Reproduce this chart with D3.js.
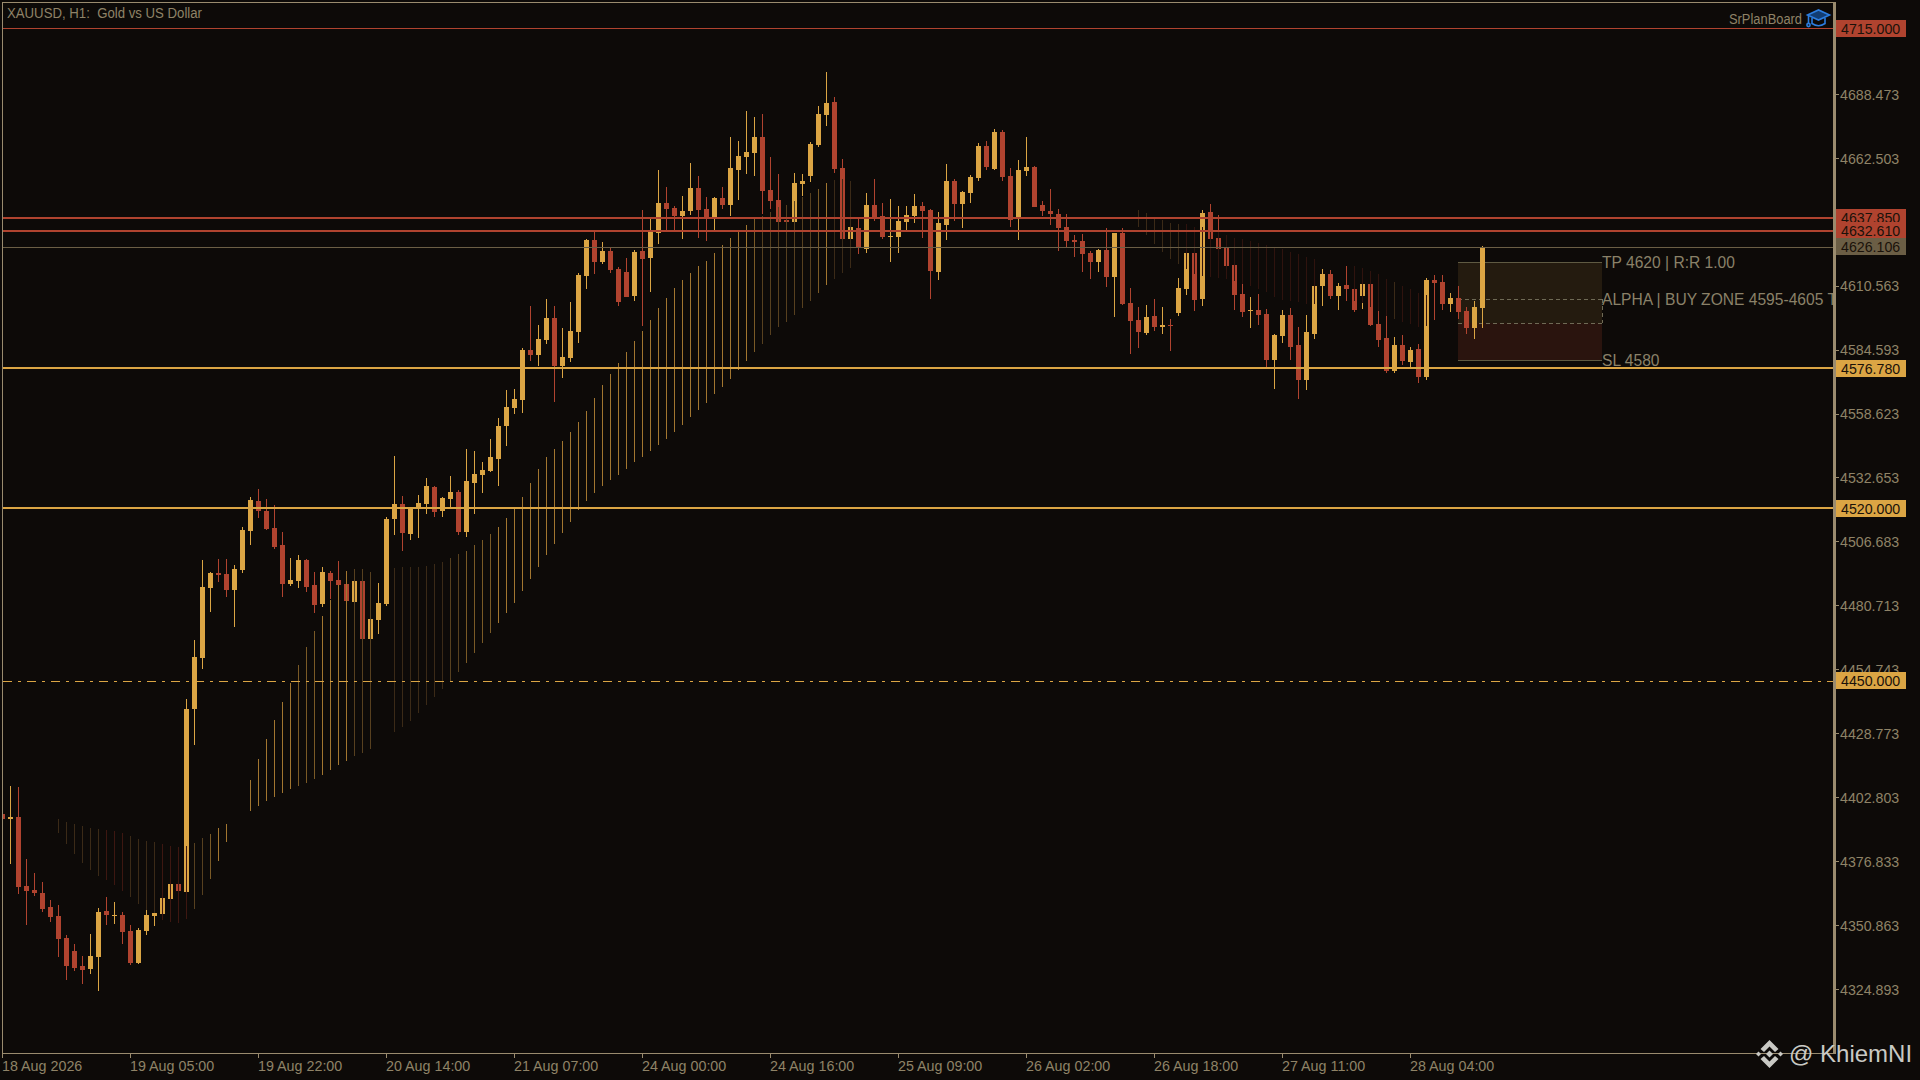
<!DOCTYPE html>
<html><head><meta charset="utf-8">
<script src="https://cdn.jsdelivr.net/npm/d3@7/dist/d3.min.js"></script>
<style>html,body{margin:0;padding:0;background:#0d0a08;overflow:hidden}svg{display:block}text{font-family:"Liberation Sans",Arial,sans-serif;white-space:pre}</style>
</head><body><div id="chart"></div>
<script>
const opens=[4396.0,4394.0,4394.8,4366.7,4365.1,4363.9,4358.2,4354.6,4345.6,4340.3,
4334.3,4333.0,4337.9,4356.6,4354.6,4355.0,4348.5,4335.5,4348.5,4354.6,
4355.4,4361.5,4367.6,4364.3,4438.6,4459.3,4487.8,4493.9,4493.5,4487.0,
4495.1,4510.9,4523.1,4519.0,4512.1,4505.2,4489.4,4490.6,4499.1,4489.0,
4481.3,4493.9,4491.0,4489.4,4482.1,4490.6,4467.1,4474.8,4481.3,4515.8,
4521.9,4509.7,4520.3,4521.9,4528.8,4519.0,4523.9,4526.8,4510.5,4530.4,
4533.7,4535.3,4540.2,4553.6,4560.9,4564.1,4584.4,4582.4,4588.5,4597.4,
4577.9,4581.2,4591.7,4614.5,4629.1,4620.2,4624.6,4617.3,4616.1,4606.3,
4624.6,4621.8,4632.0,4644.1,4642.1,4638.9,4640.9,4650.2,4641.7,4638.0,
4646.2,4643.3,4657.5,4662.8,4664.4,4670.9,4649.4,4645.3,4637.2,4636.4,
4651.9,4655.1,4667.7,4679.9,4685.1,4658.3,4629.5,4634.0,4625.5,4643.3,
4638.9,4630.3,4630.3,4636.4,4638.9,4642.9,4641.3,4616.1,4635.2,4653.1,
4643.7,4648.2,4654.3,4667.3,4657.9,4673.0,4655.1,4638.0,4657.1,4658.7,
4643.3,4640.9,4639.7,4634.4,4629.1,4628.7,4623.8,4620.2,4625.0,4614.1,
4632.0,4603.5,4596.6,4591.3,4598.2,4593.8,4594.6,4599.4,4609.2,4623.8,
4605.1,4640.5,4629.9,4625.9,4618.9,4607.2,4600.3,4600.7,4599.0,4580.4,
4590.1,4598.6,4586.5,4572.2,4590.9,4610.4,4615.3,4606.3,4610.8,4609.2,
4606.3,4611.2,4595.0,4589.3,4575.9,4586.5,4579.5,4584.8,4573.4,4612.9,
4612.0,4603.1,4605.5,4600.3,4593.4,4601.5];
const highs=[4396.0,4407.4,4407.0,4377.7,4372.0,4368.4,4361.1,4359.0,4346.8,4343.2,
4338.3,4347.3,4357.8,4362.3,4360.2,4356.2,4350.9,4349.7,4357.4,4355.8,
4361.9,4367.6,4367.6,4442.7,4466.6,4499.1,4494.3,4499.6,4499.6,4497.1,
4512.5,4524.7,4528.0,4523.9,4521.5,4510.5,4500.0,4501.2,4499.6,4494.3,
4496.3,4494.7,4498.7,4494.7,4492.6,4490.6,4475.2,4489.8,4516.6,4541.4,
4525.1,4520.7,4525.5,4532.4,4529.2,4524.7,4533.3,4527.6,4544.2,4543.4,
4538.9,4548.3,4556.8,4568.2,4568.6,4585.2,4602.3,4594.6,4605.1,4602.3,
4593.4,4603.9,4615.7,4629.5,4632.8,4628.3,4625.9,4618.1,4621.8,4625.0,
4641.3,4637.6,4657.5,4650.6,4642.9,4647.0,4660.4,4655.1,4646.6,4646.6,
4650.6,4670.9,4669.3,4681.5,4679.1,4680.3,4662.8,4655.9,4637.2,4656.3,
4655.9,4668.9,4683.5,4697.3,4687.2,4662.0,4634.4,4637.6,4648.2,4653.9,
4644.1,4645.8,4642.9,4642.9,4647.8,4644.5,4641.7,4640.5,4660.0,4653.9,
4649.0,4655.5,4668.5,4669.3,4674.2,4673.8,4658.3,4661.6,4670.9,4659.1,
4644.9,4649.8,4641.7,4639.7,4631.1,4631.5,4624.6,4625.5,4634.0,4632.0,
4634.0,4609.6,4601.9,4602.7,4605.1,4601.9,4597.0,4613.7,4623.8,4623.8,
4641.3,4643.7,4639.3,4625.9,4618.9,4611.6,4605.9,4607.2,4601.1,4590.9,
4600.7,4601.5,4593.8,4598.6,4610.4,4617.3,4616.9,4611.6,4618.5,4609.2,
4611.2,4611.2,4600.3,4598.2,4589.7,4590.5,4585.6,4586.9,4613.7,4614.9,
4614.9,4607.6,4610.4,4601.9,4604.3,4626.7];
const lows=[4394.0,4375.7,4363.5,4350.9,4362.7,4356.2,4352.1,4337.9,4328.6,4332.2,
4326.9,4331.0,4324.1,4350.9,4351.3,4343.2,4334.7,4335.1,4346.8,4350.5,
4352.9,4361.5,4364.7,4364.3,4424.0,4454.9,4478.0,4490.2,4484.1,4471.9,
4493.9,4505.2,4516.2,4511.3,4503.6,4484.1,4488.6,4487.8,4486.1,4477.6,
4480.0,4483.3,4487.0,4482.5,4481.7,4467.1,4467.1,4469.1,4480.5,4509.3,
4502.8,4507.3,4508.1,4517.8,4516.6,4516.6,4520.3,4509.3,4508.5,4517.8,
4526.4,4534.9,4529.2,4545.4,4558.4,4558.8,4580.0,4577.9,4586.9,4563.3,
4573.0,4579.5,4587.3,4609.2,4615.3,4619.4,4615.7,4602.3,4605.9,4604.3,
4594.2,4608.0,4627.5,4633.2,4632.8,4629.5,4639.3,4629.9,4628.7,4633.2,
4641.7,4638.9,4645.3,4655.9,4655.1,4639.7,4641.7,4636.4,4636.4,4636.4,
4647.0,4652.7,4666.9,4675.4,4656.3,4629.5,4629.5,4623.4,4623.8,4636.8,
4629.5,4620.2,4623.8,4633.2,4636.0,4629.9,4605.1,4612.9,4629.1,4636.8,
4634.0,4644.1,4653.1,4657.5,4657.5,4653.1,4634.4,4629.1,4655.1,4642.5,
4638.9,4635.2,4624.6,4626.3,4622.2,4616.1,4613.3,4616.1,4610.0,4597.8,
4602.7,4582.8,4585.2,4590.5,4592.1,4590.9,4584.0,4598.2,4606.8,4600.3,
4602.3,4629.5,4625.5,4618.5,4600.7,4597.8,4593.4,4594.6,4577.5,4568.6,
4587.3,4580.4,4564.5,4568.2,4588.9,4602.3,4605.1,4600.7,4604.3,4599.9,
4601.1,4594.2,4585.6,4575.1,4575.1,4578.3,4577.5,4571.0,4572.2,4596.6,
4600.7,4599.9,4597.0,4590.9,4588.9,4593.4];
const closes=[4394.0,4394.8,4366.3,4364.7,4363.9,4357.4,4354.2,4345.2,4334.3,4333.4,
4332.6,4338.3,4356.2,4355.0,4355.0,4348.1,4335.5,4348.9,4355.0,4355.8,
4361.9,4367.6,4364.7,4438.6,4459.7,4488.2,4493.9,4493.0,4487.0,4495.5,
4511.3,4523.5,4519.0,4511.7,4504.4,4489.4,4491.0,4499.1,4488.2,4480.9,
4494.3,4490.6,4489.0,4482.5,4490.6,4467.1,4475.2,4481.7,4515.8,4521.9,
4510.1,4520.3,4522.3,4529.2,4518.6,4524.3,4526.8,4510.5,4531.2,4534.1,
4535.7,4541.0,4553.6,4561.3,4564.5,4584.4,4582.4,4588.9,4597.4,4577.9,
4581.6,4592.1,4614.9,4629.1,4620.2,4624.6,4616.9,4603.9,4605.9,4624.2,
4621.4,4632.4,4644.1,4641.7,4638.9,4640.9,4650.2,4641.3,4638.0,4646.2,
4643.3,4658.3,4663.2,4664.8,4670.9,4649.0,4644.9,4636.4,4636.4,4652.2,
4653.1,4668.1,4680.3,4684.7,4657.9,4629.5,4634.4,4625.9,4643.3,4637.6,
4630.3,4630.7,4636.8,4639.3,4642.9,4640.9,4616.5,4636.0,4653.1,4643.7,
4648.6,4654.7,4667.3,4658.7,4673.0,4654.7,4637.2,4657.5,4658.7,4642.5,
4640.9,4639.7,4634.0,4628.7,4628.3,4623.4,4620.2,4625.0,4614.1,4632.0,
4603.1,4596.2,4591.7,4597.8,4593.8,4594.6,4594.2,4609.6,4623.8,4604.7,
4640.1,4629.5,4625.5,4618.5,4606.8,4599.9,4600.7,4598.6,4580.4,4590.5,
4598.6,4585.6,4572.2,4591.7,4610.4,4615.3,4606.3,4610.4,4609.2,4600.7,
4611.2,4594.6,4588.5,4575.9,4586.5,4580.0,4584.4,4573.4,4612.9,4611.6,
4603.1,4605.5,4599.9,4593.4,4601.9,4625.9];

// oscillating ribbon drawn behind price, from bar 7 onward; null = no bar
const ribbonFirstBar=7;
const ribbonHigh=[4394.0,4392.7,4391.9,4391.1,4390.3,4389.9,4389.5,4389.1,4388.3,4387.0,
4385.8,4385.0,4384.6,4383.8,4383.0,4382.6,4383.0,4384.2,4386.2,4387.9,
4390.3,4391.9,null,null,4409.8,4418.3,4426.4,4434.2,4441.5,4449.2,
4456.5,4463.8,4470.3,4476.4,4482.9,4489.0,4494.7,4495.5,4495.5,4494.3,
null,null,4495.9,4496.3,4496.3,4496.3,4496.7,4497.5,4498.3,4500.0,
4501.6,4502.8,4505.2,4507.3,4509.7,4512.5,4516.2,4520.3,4524.7,4530.4,
4536.1,4541.0,4544.2,4547.5,4551.1,4555.2,4559.6,4564.9,4570.2,4574.7,
4579.1,4583.6,4588.1,4592.1,4596.6,4601.5,4605.5,4609.6,4612.9,4615.7,
4618.5,4620.6,4623.8,4627.1,4629.9,4632.4,4635.2,4637.6,4638.9,4640.5,
4642.5,4643.3,4644.9,4646.6,4648.2,4649.8,4652.2,4653.5,4653.9,4653.1,
null,null,null,null,null,null,null,null,null,null,
null,null,null,null,null,null,null,null,null,null,
null,null,null,null,null,null,null,null,null,null,
null,null,null,null,null,4641.3,4640.1,4637.6,4637.2,4636.0,
4635.6,4635.6,4634.4,4634.4,4633.2,4633.2,4631.1,4629.9,4629.5,4628.7,
4627.9,4627.1,4625.9,4625.5,4624.2,4623.4,4622.2,4621.4,null,null,
null,null,4618.5,4617.7,4616.5,4615.3,4613.3,4612.0,4610.4,4609.2,
4607.6,4606.8];
const ribbonLow=[4388.3,4383.8,4379.7,4376.1,4373.2,4370.8,4369.2,4367.2,4364.7,4362.3,
4359.4,4357.0,4355.8,4352.9,4352.1,4351.7,4353.3,4357.4,4363.1,4369.6,
4376.9,4384.6,null,null,4397.2,4399.2,4401.3,4402.9,4404.5,4406.1,
4407.4,4408.6,4410.2,4411.8,4413.9,4415.9,4417.5,4419.5,4420.8,4422.4,
null,null,4429.3,4431.3,4433.8,4437.0,4440.2,4443.5,4446.8,4450.0,
4453.7,4457.3,4461.4,4465.4,4469.5,4473.6,4477.6,4481.7,4486.6,4491.4,
4496.3,4501.2,4505.6,4510.1,4514.6,4519.4,4523.1,4526.4,4529.2,4531.6,
4533.7,4536.1,4538.9,4541.0,4543.4,4545.9,4548.3,4551.1,4553.9,4557.2,
4560.1,4562.9,4566.6,4569.4,4572.6,4576.3,4580.0,4583.6,4586.9,4590.5,
4593.8,4595.8,4598.6,4601.5,4604.3,4607.6,4610.8,4613.3,4615.7,4617.7,
null,null,null,null,null,null,null,null,null,null,
null,null,null,null,null,null,null,null,null,null,
null,null,null,null,null,null,null,null,null,null,
null,null,null,null,null,4634.4,4631.1,4627.5,4624.2,4621.4,
4619.4,4617.3,4615.3,4614.5,4614.1,4613.7,4613.3,4612.5,4611.2,4610.4,
4609.2,4608.0,4605.9,4604.7,4604.3,4603.9,4603.1,4603.1,null,null,
null,null,4604.3,4603.5,4601.9,4600.3,4598.2,4597.0,4595.8,4595.0,
4593.8,4594.2];
const ribbonStrength=[1,1,1,1,1,1,-2,-2,-2,1,
1,1,1,-2,-2,-2,-2,2,2,3,
4,4,0,0,4,4,4,4,4,4,
3,3,3,4,4,4,4,2,2,2,
0,0,1,1,1,1,1,1,1,2,
2,3,3,3,3,4,4,4,4,4,
4,4,4,4,4,4,4,4,4,4,
4,4,4,4,4,4,4,4,4,4,
4,4,4,4,4,4,4,3,2,2,
2,2,2,2,2,3,4,1,1,1,
0,0,0,0,0,0,0,0,0,0,
0,0,0,0,0,0,0,0,0,0,
0,0,0,0,0,0,0,0,0,0,
0,0,0,0,0,1,1,1,1,1,
1,-1,-1,-1,-1,-1,-1,-1,-1,-1,
-1,-1,-1,-1,-1,-1,-1,-1,0,0,
0,0,-1,-1,-1,-1,-1,1,-1,-1,
-1,-1];

const priceTicks=[4688.473,4662.503,4636.533,4610.563,4584.593,4558.623,4532.653,4506.683,4480.713,4454.743,4428.773,4402.803,4376.833,4350.863,4324.893];
const dateBars=[0,16,32,48,64,80,96,112,128,144,160,176];
const dateLabels=["18 Aug 2026","19 Aug 05:00","19 Aug 22:00","20 Aug 14:00","21 Aug 07:00","24 Aug 00:00","24 Aug 16:00","25 Aug 09:00","26 Aug 02:00","26 Aug 18:00","27 Aug 11:00","28 Aug 04:00"];
const levelPrices=[4715,4637.85,4632.61,4626.106,4576.78,4520,4450];
const levelKinds=["red1","red","red","olive","gold","gold","dash"];
const tradeTP=4620, tradeZoneHigh=4605, tradeZoneLow=4595, tradeSL=4580;
const tradeStartBar=182, tradeEndBar=200;
const tradeTexts=["TP 4620 | R:R 1.00","ALPHA | BUY ZONE 4595-4605 TP 4620","SL 4580"];

const W=1920,H=1080;
const BG="#0d0a08",GOLD="#dba544",RED="#b0432f",OLIVE="#6b5e45",AXIS="#9a8b6e",TXT="#8f8367",DARK="#1a120a";
const plotL=2,plotR=1833,plotT=2,plotB=1053,axisX=1836;

const svg=d3.select("#chart").append("svg").attr("width",W).attr("height",H).attr("viewBox",`0 0 ${W} ${H}`);
svg.append("rect").attr("width",W).attr("height",H).attr("fill",BG);

const x=d3.scaleLinear().domain([0,185]).range([2.5,1482.5]);
const y=d3.scaleLinear().domain([4715,4450]).range([28.5,681]);
const ry=p=>Math.round(y(p));
const fy=p=>Math.floor(y(p));
const ribbonColor=d3.scaleOrdinal().domain([-2,-1,1,2,3,4]).range(["#3d1711","#2f130e","#3b2a17","#57401f","#7a5a26","#a27630"]);

const defs=svg.append("defs");
defs.append("clipPath").attr("id","plot").append("rect").attr("x",plotL).attr("y",plotT).attr("width",plotR-plotL).attr("height",plotB-plotT);
const plot=svg.append("g").attr("clip-path","url(#plot)").attr("shape-rendering","crispEdges");

// trade box
const bx0=x(tradeStartBar)-0.5,bx1=x(tradeEndBar)-0.5;
const box=plot.append("g");
box.append("rect").attr("x",bx0).attr("width",bx1-bx0).attr("y",fy(tradeTP)).attr("height",fy(tradeZoneLow)-fy(tradeTP)).attr("fill","#241b0f");
box.append("rect").attr("x",bx0).attr("width",bx1-bx0).attr("y",fy(tradeZoneLow)).attr("height",fy(tradeSL)-fy(tradeZoneLow)).attr("fill","#2a140e");
[[tradeTP,null],[tradeSL,null],[tradeZoneHigh,"4 3"],[tradeZoneLow,"4 3"]].forEach(([p,d])=>{
  box.append("line").attr("x1",bx0).attr("x2",bx1).attr("y1",fy(p)+0.5).attr("y2",fy(p)+0.5)
    .attr("stroke",d?"#6f6a55":"#5f5a42").attr("stroke-dasharray",d);
});
box.append("line").attr("x1",bx1+0.5).attr("x2",bx1+0.5).attr("y1",fy(tradeZoneHigh)).attr("y2",fy(tradeZoneLow))
  .attr("stroke","#6f6a55").attr("stroke-dasharray","4 3");

// candles
const bars=d3.range(opens.length);
const candles=plot.append("g");
candles.selectAll("rect.w").data(bars).join("rect").attr("class","w")
  .attr("x",i=>x(i)-0.5).attr("width",1)
  .attr("y",i=>ry(highs[i])).attr("height",i=>Math.max(1,ry(lows[i])-ry(highs[i])))
  .attr("fill",i=>closes[i]>=opens[i]?GOLD:RED);
candles.selectAll("rect.b").data(bars).join("rect").attr("class","b")
  .attr("x",i=>x(i)-2.5).attr("width",5)
  .attr("y",i=>ry(Math.max(opens[i],closes[i])))
  .attr("height",i=>Math.max(1,ry(Math.min(opens[i],closes[i]))-ry(Math.max(opens[i],closes[i]))))
  .attr("fill",i=>closes[i]>=opens[i]?GOLD:RED);

// ribbon
plot.append("g").selectAll("rect").data(ribbonHigh.map((h,k)=>k).filter(k=>ribbonHigh[k]!==null)).join("rect")
  .attr("x",k=>x(k+ribbonFirstBar)-0.5).attr("width",1)
  .attr("y",k=>ry(ribbonHigh[k])).attr("height",k=>ry(ribbonLow[k])-ry(ribbonHigh[k]))
  .attr("fill",k=>ribbonColor(ribbonStrength[k]));

// horizontal levels
const lv=plot.append("g");
levelPrices.forEach((p,k)=>{
  const kind=levelKinds[k];
  const line=lv.append("rect").attr("x",plotL).attr("width",plotR-plotL);
  if(kind==="red1"){line.attr("y",fy(p)).attr("height",1).attr("fill",RED);}
  else if(kind==="olive"){line.attr("y",fy(p)).attr("height",1).attr("fill",OLIVE);}
  else if(kind==="dash"){line.remove();lv.append("line").attr("x1",plotL+1).attr("x2",plotR).attr("y1",fy(p)+0.5).attr("y2",fy(p)+0.5)
      .attr("stroke",GOLD).attr("stroke-dasharray","9 6 3 6");}
  else{line.attr("y",fy(p)-1).attr("height",2).attr("fill",kind==="red"?RED:GOLD);}
});

// trade texts
const textBaselines=[tradeTP,tradeZoneHigh,tradeSL];
plot.append("g").selectAll("text").data(tradeTexts).join("text")
  .attr("x",bx1).attr("y",(d,k)=>fy(textBaselines[k])+5.5)
  .attr("font-size",15.6).attr("fill","#8a8168").text(d=>d);

// frame
const frame=svg.append("g").attr("shape-rendering","crispEdges").attr("fill",AXIS);
frame.append("rect").attr("x",plotL).attr("y",plotT).attr("width",axisX-plotL).attr("height",1);
frame.append("rect").attr("x",plotL).attr("y",plotT).attr("width",1).attr("height",plotB-plotT);
frame.append("rect").attr("x",plotL).attr("y",plotB).attr("width",axisX-plotL).attr("height",1);
frame.append("rect").attr("x",plotR).attr("y",plotT).attr("width",axisX-plotR).attr("height",plotB-plotT+1);

// axes
const priceAxis=d3.axisRight(y).tickValues(priceTicks).tickSize(3).tickPadding(1).tickFormat(d3.format(".3f"));
const gy=svg.append("g").attr("transform",`translate(${axisX},0)`).call(priceAxis);
gy.select(".domain").remove();
gy.selectAll("line").attr("stroke",AXIS).attr("shape-rendering","crispEdges");
gy.selectAll("text").attr("fill",TXT).attr("font-size",14.2).attr("dy","0.37em").attr("font-family",'"Liberation Sans",Arial,sans-serif');

const xDate=d3.scaleLinear().domain([0,185]).range([2,1482]);
const dateAxis=d3.axisBottom(xDate).tickValues(dateBars).tickSize(4).tickPadding(3).tickFormat(d=>dateLabels[dateBars.indexOf(d)]);
const gx=svg.append("g").attr("transform",`translate(0,${plotB+1})`).call(dateAxis);
gx.select(".domain").remove();
gx.selectAll("line").attr("stroke",AXIS).attr("shape-rendering","crispEdges");
gx.selectAll("text").attr("fill",TXT).attr("font-size",14.3).attr("font-family",'"Liberation Sans",Arial,sans-serif')
  .attr("text-anchor","start").attr("dx",-0.5);

// price labels (later ones overlay earlier)
const labelFill={red1:RED,red:RED,olive:OLIVE,gold:GOLD,dash:GOLD};
const labels=svg.append("g");
levelPrices.forEach((p,k)=>{
  const yy=Math.round(y(p));
  labels.append("rect").attr("x",axisX).attr("y",yy-9).attr("width",70).attr("height",17)
    .attr("fill",labelFill[levelKinds[k]]).attr("shape-rendering","crispEdges");
  labels.append("text").attr("x",axisX+5).attr("y",yy+5).attr("font-size",14.2).attr("fill",DARK).text(d3.format(".3f")(p));
});

// header
svg.append("text").attr("x",7).attr("y",18).attr("font-size",14).attr("fill",TXT)
  .attr("textLength",195).attr("lengthAdjust","spacingAndGlyphs").text("XAUUSD, H1:  Gold vs US Dollar");
svg.append("text").attr("x",1729).attr("y",24).attr("font-size",14).attr("fill",TXT)
  .attr("textLength",73).attr("lengthAdjust","spacingAndGlyphs").text("SrPlanBoard");

// mortarboard icon
const cap=svg.append("g").attr("transform","translate(1807,9)").attr("fill","none").attr("stroke","#2c7ddf").attr("stroke-width",1.6);
cap.append("path").attr("d","M0.5 6 L11.5 1 L22.5 6 L11.5 11 Z").attr("fill","#123d73");
cap.append("path").attr("d","M5 9 V14.5 Q11.5 19 18 14.5 V9");
cap.append("path").attr("d","M1.5 7 V14.5");
cap.append("circle").attr("cx",1.5).attr("cy",16).attr("r",1.6);

// watermark
const wm=svg.append("g").attr("transform","translate(1769.5,1054)").attr("fill","#c9c9c4");
wm.append("path").attr("d","M0 -14 L9 -5 L5.5 -2 L0 -7.5 L-5.5 -2 L-9 -5 Z");
wm.append("path").attr("d","M0 14 L9 5 L5.5 2 L0 7.5 L-5.5 2 L-9 5 Z");
wm.append("path").attr("d","M0 -3.5 L3.5 0 L0 3.5 L-3.5 0 Z");
wm.append("path").attr("d","M-11 -2.5 L-8.5 0 L-11 2.5 L-13.5 0 Z");
wm.append("path").attr("d","M11 -2.5 L13.5 0 L11 2.5 L8.5 0 Z");
svg.append("text").attr("x",1789).attr("y",1062).attr("font-size",24).attr("fill","#c9c9c4")
  .attr("font-family",'"Noto Sans",sans-serif').text("@ KhiemNI");
</script></body></html>
